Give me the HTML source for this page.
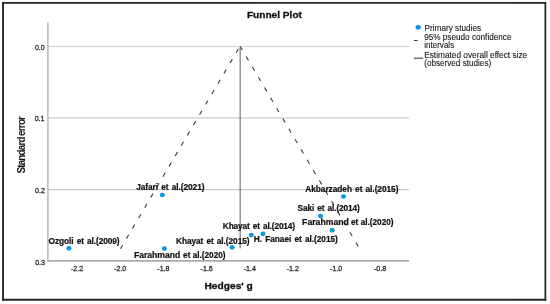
<!DOCTYPE html>
<html><head><meta charset="utf-8"><title>Funnel Plot</title>
<style>
html,body{margin:0;padding:0;background:#fff;}
body{width:550px;height:304px;overflow:hidden;font-family:"Liberation Sans",sans-serif;}
svg{display:block}
text{font-family:"Liberation Sans",sans-serif;}
.tick{font-size:7.1px;fill:#2a2a2a;stroke:#2a2a2a;stroke-width:0.28px;}
.lbl{word-spacing:0.9px;font-size:8.3px;font-weight:bold;fill:#111;stroke:#111;stroke-width:0.22px;}
.leg{font-size:8.7px;fill:#1a1a1a;stroke:#1a1a1a;stroke-width:0.12px;}
.ttl{font-size:9.6px;font-weight:bold;fill:#111;stroke:#111;stroke-width:0.3px;}
</style></head><body>
<svg width="550" height="304" viewBox="0 0 550 304">
<rect x="0" y="0" width="550" height="304" fill="#fff"/>
<g fill="#262626">
<rect x="2.1" y="1.95" width="1.9" height="298.8" rx="0.6"/>
<rect x="2.1" y="1.95" width="544.15" height="1.85" rx="0.6"/>
<rect x="544.5" y="1.95" width="1.75" height="298.8" rx="0.4"/>
<rect x="2.1" y="298.65" width="544.15" height="2.1" rx="0.6"/>
</g>
<!-- gridlines -->
<g stroke="#cdcdcd" stroke-width="1.2">
<line x1="48" y1="46.5" x2="409" y2="46.5"/>
<line x1="48" y1="117.9" x2="409" y2="117.9"/>
<line x1="48" y1="189.6" x2="409" y2="189.6"/>
</g>
<g stroke="#ababab" stroke-width="1.25">
<line x1="47.9" y1="22.5" x2="47.9" y2="261.2"/>
<line x1="47.25" y1="260.85" x2="409.1" y2="260.85" stroke-width="1.65"/>
</g>
<!-- funnel -->
<g stroke="#3a3a3a" stroke-width="1.1" fill="none" stroke-dasharray="4.5 7.5" stroke-dashoffset="0.4">
<line x1="120.5" y1="248.7" x2="239.8" y2="46.5"/>
<line x1="240.3" y1="46.5" x2="359.3" y2="248.2"/>
</g>
<line x1="240.15" y1="46.5" x2="240.15" y2="248.4" stroke="#606060" stroke-width="1"/>
<!-- y ticks -->
<g class="tick" text-anchor="end">
<text x="44.8" y="49.7">0.0</text>
<text x="44.5" y="121.4">0.1</text>
<text x="44.9" y="193">0.2</text>
<text x="45" y="265.4">0.3</text>
</g>
<g class="tick" text-anchor="middle">
<text x="77.1" y="270.6">-2.2</text>
<text x="120.2" y="270.6">-2.0</text>
<text x="163.4" y="270.6">-1.8</text>
<text x="206.7" y="270.6">-1.6</text>
<text x="249.8" y="270.6">-1.4</text>
<text x="292.8" y="270.6">-1.2</text>
<text x="336.2" y="270.6">-1.0</text>
<text x="380.1" y="270.6">-0.8</text>
</g>
<!-- points -->
<g fill="#0798e7">
<ellipse cx="68.95" cy="248.3" rx="2.55" ry="2.35"/>
<ellipse cx="162.4" cy="195" rx="2.55" ry="2.35"/>
<ellipse cx="164.4" cy="248.6" rx="2.55" ry="2.35"/>
<ellipse cx="232.1" cy="247.3" rx="2.55" ry="2.35"/>
<ellipse cx="251.3" cy="235.05" rx="2.55" ry="2.35"/>
<ellipse cx="263" cy="233.85" rx="2.55" ry="2.35"/>
<ellipse cx="320.5" cy="216" rx="2.55" ry="2.35"/>
<ellipse cx="332.3" cy="230.3" rx="2.55" ry="2.35"/>
<ellipse cx="343.5" cy="196.5" rx="2.55" ry="2.35"/>
</g>
<g class="lbl">
<text x="48.6" y="243.8" textLength="71" lengthAdjust="spacing">Ozgoli et al.(2009)</text>
<text x="136.2" y="189.9" textLength="68.3" lengthAdjust="spacing">Jafari et al.(2021)</text>
<text y="257.9"><tspan x="133.9" textLength="46.3" lengthAdjust="spacingAndGlyphs">Farahmand</tspan> <tspan x="183.1">et</tspan> <tspan x="192.7" textLength="32.8" lengthAdjust="spacingAndGlyphs">al.(2020)</tspan></text>
<text x="176" y="244.2" textLength="73.5" lengthAdjust="spacing">Khayat et al.(2015)</text>
<text x="222.8" y="228.7" textLength="72.3" lengthAdjust="spacing">Khayat et al.(2014)</text>
<text x="253.8" y="242.1" textLength="84" lengthAdjust="spacing">H. Fanaei et al.(2015)</text>
<text x="297.6" y="210.5" textLength="62.2" lengthAdjust="spacing">Saki et al.(2014)</text>
<text y="224.9"><tspan x="302.1" textLength="46.7" lengthAdjust="spacingAndGlyphs">Farahmand</tspan> <tspan x="350.9">et</tspan> <tspan x="360.7" textLength="32.8" lengthAdjust="spacingAndGlyphs">al.(2020)</tspan></text>
<text x="305.3" y="191.5" textLength="93.1" lengthAdjust="spacing">Akbarzadeh et al.(2015)</text>
</g>
<text class="ttl" x="246.9" y="18.1" textLength="55.1" lengthAdjust="spacingAndGlyphs">Funnel Plot</text>
<text class="ttl" x="204.5" y="288.6" textLength="48.3" lengthAdjust="spacingAndGlyphs">Hedges' g</text>
<text class="ttl" style="font-size:10.8px;stroke:none;word-spacing:-0.6px" transform="translate(24.6,173.6) rotate(-90) scale(0.92,1)" textLength="62.6" lengthAdjust="spacing">Standard error</text>
<!-- legend -->
<ellipse cx="418.2" cy="27.3" rx="2.6" ry="2.4" fill="#0798e7"/>
<g class="leg">
<text x="424.6" y="30.7" textLength="56.5" lengthAdjust="spacingAndGlyphs">Primary studies</text>
<text x="424.2" y="40.3" textLength="87.3" lengthAdjust="spacingAndGlyphs">95% pseudo confidence</text>
<text x="424.2" y="48.2" textLength="30" lengthAdjust="spacingAndGlyphs">intervals</text>
<text x="424.2" y="58.4" textLength="103" lengthAdjust="spacingAndGlyphs">Estimated overall effect size</text>
<text x="424.2" y="66.4" textLength="67" lengthAdjust="spacingAndGlyphs">(observed studies)</text>
</g>
<line x1="414" y1="40.5" x2="417.6" y2="40.5" stroke="#333" stroke-width="1"/>
<line x1="414" y1="58.2" x2="423" y2="58.2" stroke="#3a3a3a" stroke-width="1.1"/>
</svg>
</body></html>
